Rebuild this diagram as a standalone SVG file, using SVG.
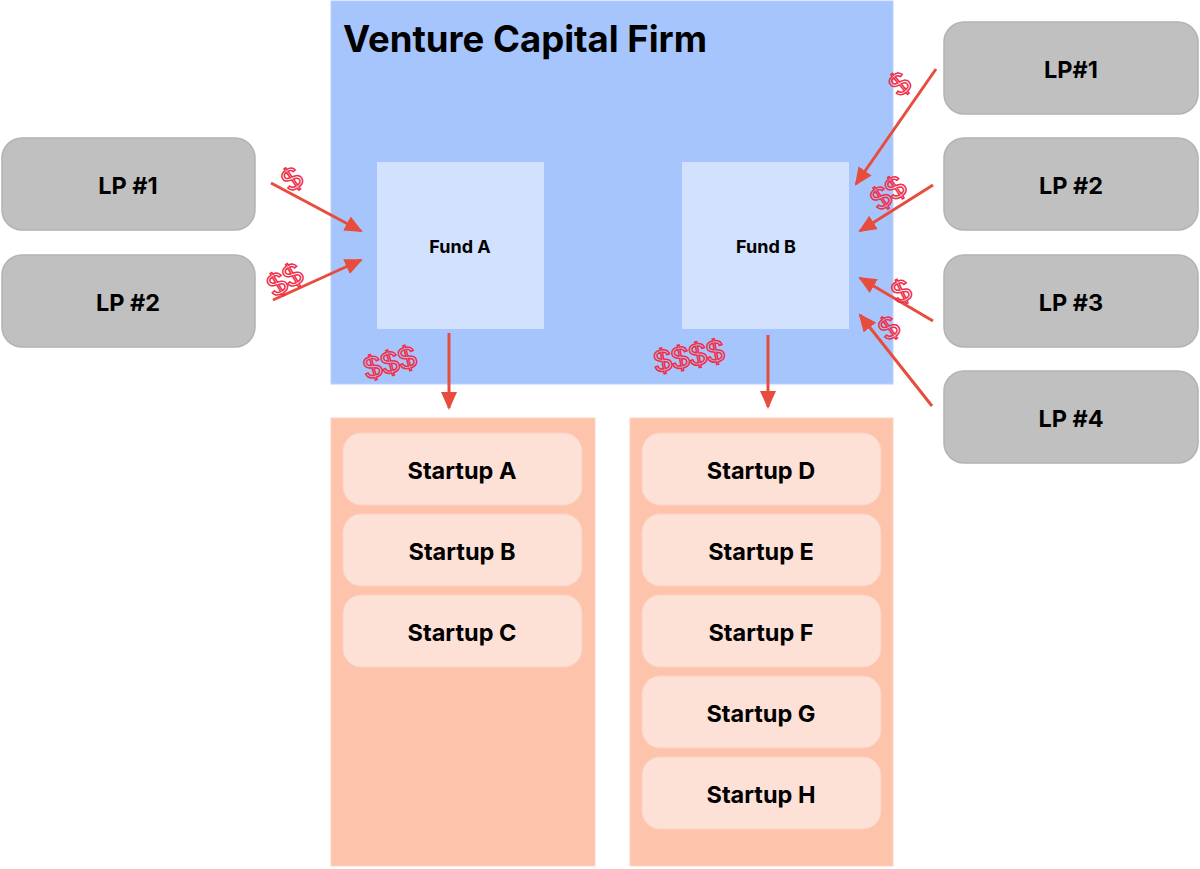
<svg xmlns="http://www.w3.org/2000/svg" width="1200" height="869" viewBox="0 0 1200 869">
<defs>
<marker id="ah" markerWidth="18" markerHeight="16" refX="16" refY="8" orient="auto" markerUnits="userSpaceOnUse" viewBox="0 0 18 16"><path d="M0,0 L18,8 L0,16 z" fill="#e84c3d"/></marker>
<style>
text{font-family:"Inter","Liberation Sans",sans-serif;font-weight:700;fill:#000}
.lp{fill:#c0c0c0;stroke:#b3b3b3;stroke-width:1.5}
.st{fill:#fde0d6;stroke:#fcd2c2;stroke-width:1}
.col{fill:#fdc4ab;stroke:#fcd4c4}
.fund{fill:#d2e1fe}
.lbl{font-size:23.5px;text-anchor:middle}
.c{stroke:#e84c3d;stroke-width:3;fill:none}
.d{font-family:"Liberation Sans",sans-serif;font-weight:400;fill:none;stroke:#f0304a;stroke-width:1.5;font-size:32px}
</style>
</defs>
<rect width="1200" height="869" fill="#fff"/>
<g id="vc"><rect x="331" y="1" width="562" height="383" fill="#a6c5fd" stroke="#b6d0fd"/>
<text x="343" y="52" font-size="36.5">Venture Capital Firm</text></g>
<g id="fundA"><rect class="fund" x="377" y="162" width="167" height="167"/><text x="460" y="253" font-size="18" text-anchor="middle">Fund A</text></g>
<g id="fundB"><rect class="fund" x="682" y="162" width="167" height="167"/><text x="766" y="253" font-size="18" text-anchor="middle">Fund B</text></g>
<g id="lpL1"><rect class="lp" x="2" y="138" width="253" height="92" rx="20"/><text class="lbl" x="128" y="194">LP #1</text></g>
<g id="lpL2"><rect class="lp" x="2" y="255" width="253" height="92" rx="20"/><text class="lbl" x="128" y="311">LP #2</text></g>
<g id="lpR1"><rect class="lp" x="944" y="22" width="254" height="92" rx="20"/><text class="lbl" x="1071" y="78">LP#1</text></g>
<g id="lpR2"><rect class="lp" x="944" y="138" width="254" height="92" rx="20"/><text class="lbl" x="1071" y="194">LP #2</text></g>
<g id="lpR3"><rect class="lp" x="944" y="255" width="254" height="92" rx="20"/><text class="lbl" x="1071" y="311">LP #3</text></g>
<g id="lpR4"><rect class="lp" x="944" y="371" width="254" height="92" rx="20"/><text class="lbl" x="1071" y="427">LP #4</text></g>
<g id="colA"><rect class="col" x="331" y="418" width="264" height="448"/></g>
<g id="colB"><rect class="col" x="630" y="418" width="263" height="448"/></g>
<g id="sA"><rect class="st" x="343" y="433" width="239" height="72" rx="18"/><text class="lbl" x="462" y="479">Startup A</text></g>
<g id="sB"><rect class="st" x="343" y="514" width="239" height="72" rx="18"/><text class="lbl" x="462" y="560">Startup B</text></g>
<g id="sC"><rect class="st" x="343" y="595" width="239" height="72" rx="18"/><text class="lbl" x="462" y="641">Startup C</text></g>
<g id="sD"><rect class="st" x="642" y="433" width="239" height="72" rx="18"/><text class="lbl" x="761" y="479">Startup D</text></g>
<g id="sE"><rect class="st" x="642" y="514" width="239" height="72" rx="18"/><text class="lbl" x="761" y="560">Startup E</text></g>
<g id="sF"><rect class="st" x="642" y="595" width="239" height="72" rx="18"/><text class="lbl" x="761" y="641">Startup F</text></g>
<g id="sG"><rect class="st" x="642" y="676" width="239" height="72" rx="18"/><text class="lbl" x="761" y="722">Startup G</text></g>
<g id="sH"><rect class="st" x="642" y="757" width="239" height="72" rx="18"/><text class="lbl" x="761" y="803">Startup H</text></g>
<g id="connectors">
<path class="c" marker-end="url(#ah)" d="M271,183 L361,231"/>
<path class="c" marker-end="url(#ah)" d="M273,300 L361,260"/>
<path class="c" marker-end="url(#ah)" d="M449,333 L449,408"/>
<path class="c" marker-end="url(#ah)" d="M768,335 L768,407"/>
<path class="c" marker-end="url(#ah)" d="M936,69 L856,184"/>
<path class="c" marker-end="url(#ah)" d="M933,185 L860,231"/>
<path class="c" marker-end="url(#ah)" d="M933,321 L860,278"/>
<path class="c" marker-end="url(#ah)" d="M932,406 L860,315"/>
</g>
<g id="dollars">
<text class="d" transform="translate(291,193) rotate(-35)">$</text>
<text class="d" transform="translate(275,298) rotate(-30)">$$</text>
<text class="d" transform="translate(367,380) rotate(-15)">$$$</text>
<text class="d" transform="translate(656,373) rotate(-10)">$$$$</text>
<text class="d" transform="translate(900,98) rotate(-40)">$</text>
<text class="d" transform="translate(880,212) rotate(-35)">$$</text>
<text class="d" transform="translate(898,305) rotate(-25)">$</text>
<text class="d" transform="translate(888,342) rotate(-35)">$</text>
</g>
</svg>
